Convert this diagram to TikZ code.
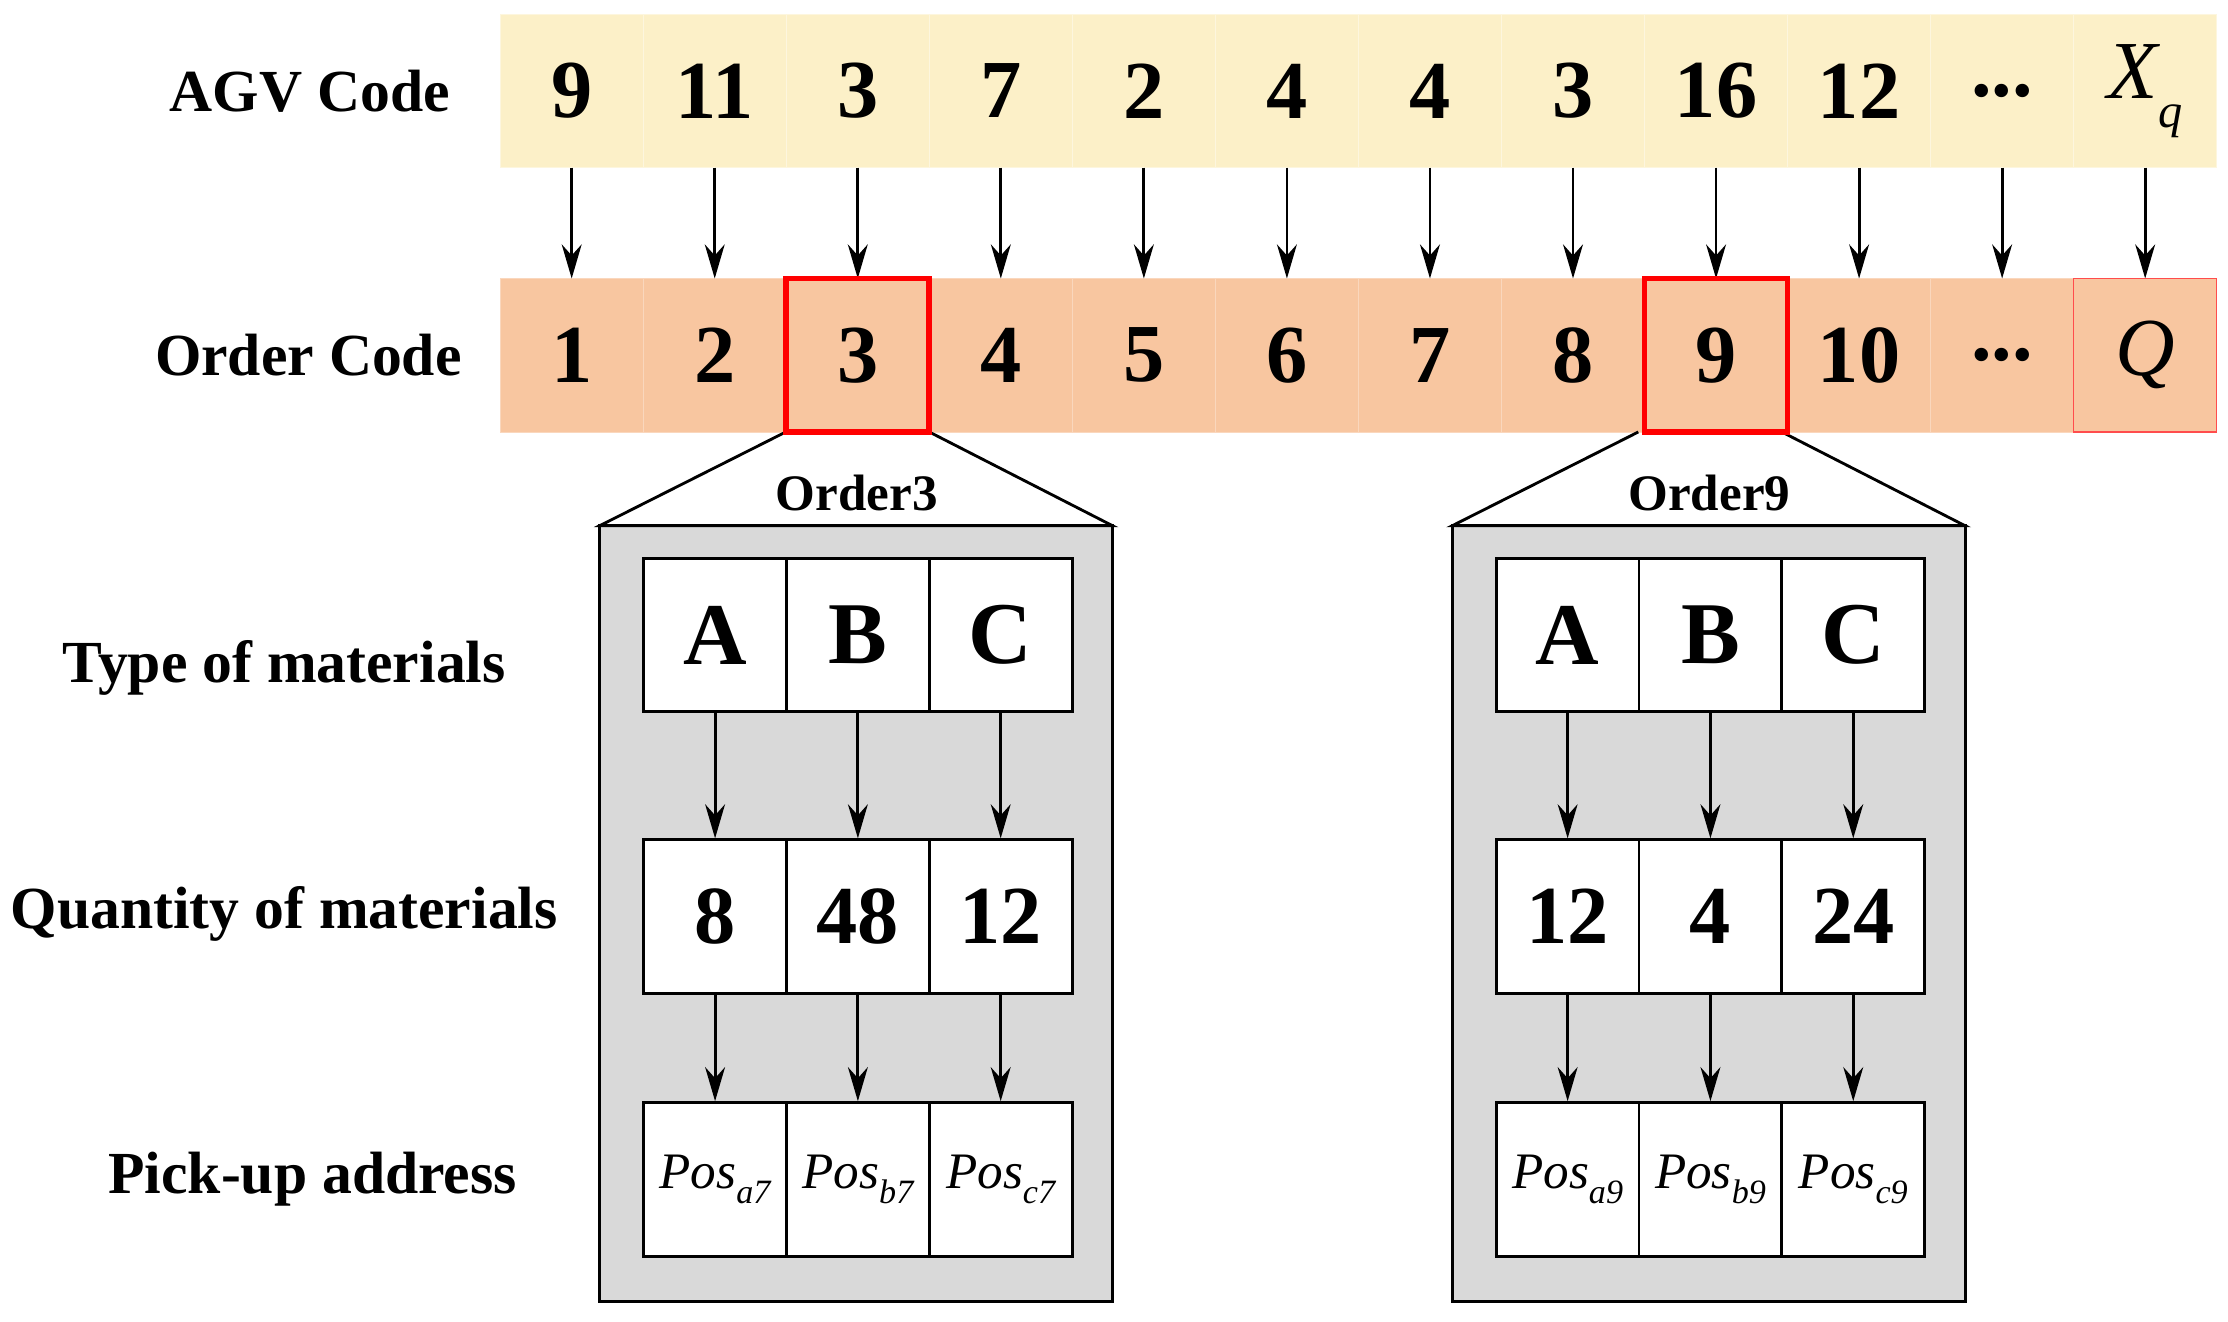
\documentclass[tikz,border=0pt]{standalone}
\usepackage{fontspec}
\setmainfont{Liberation Serif}
\usetikzlibrary{arrows.meta}
\definecolor{agv}{HTML}{FCF0C8}
\definecolor{ord}{HTML}{F8C6A0}
\definecolor{gbox}{HTML}{D9D9D9}
\newcommand\mydots{...}
\newcommand\xq{\mdseries\itshape X\raisebox{-0.35em}{\fontsize{34}{34}\selectfont q}}
\newcommand\psub[1]{\itshape Pos\raisebox{-0.3em}{\fontsize{24}{24}\selectfont #1}}
\tikzset{
 arr/.style={-{Stealth[length=24pt,width=14pt]},line width=2pt},
 cellA/.style={fill=agv,draw=agv!60!white,line width=0.6pt},
 cellO/.style={fill=ord,draw=ord!70!white,line width=0.6pt},
 big/.style={font=\bfseries\fontsize{58}{62}\selectfont},
 lab/.style={font=\bfseries\fontsize{42}{46}\selectfont},
 icell/.style={draw=black,fill=white,line width=2pt},
}
\begin{document}
\begin{tikzpicture}[x=1pt,y=-1pt]
\useasboundingbox (0,0) rectangle (1568,930);
\def\cw{100.67}
\foreach \v [count=\i from 0] in {9,11,3,7,2,4,4,3,16,12,\mydots,\xq}{
  \draw[cellA] ({352+\i*\cw},10) rectangle ({352+(\i+1)*\cw},118);
  \node[big,inner sep=0] (a\i) at ({352+(\i+0.5)*\cw},64) {\v};
  \coordinate (at\i) at ({352+(\i+0.5)*\cw},118);
}
\foreach \v [count=\i from 0] in {1,2,3,4,5,6,7,8,9,10,\mydots,{\mdseries\itshape Q}}{
  \draw[cellO] ({352+\i*\cw},196) rectangle ({352+(\i+1)*\cw},304);
  \node[big,inner sep=0] (o\i) at ({352+(\i+0.5)*\cw},250) {\v};
  \coordinate (ot\i) at ({352+(\i+0.5)*\cw},196);
}
\foreach \i in {0,...,11}{\draw[arr] (at\i) -- (ot\i);}
\draw[red!70,line width=1pt] ({352+11*\cw},196) rectangle (1560,304);
\node[lab] at (218,64) {AGV Code};
\node[lab] at (217,250) {Order Code};
\node[lab] at (200,470) {Type of materials};
\node[lab] at (200,643) {Quantity of materials};
\node[lab] at (220,830) {Pick-up address};
\foreach \k/\bx/\ord/\qa/\qb/\qc/\pn in {0/422/3/8/48/12/7, 1/1022/9/12/4/24/9}{
  \begin{scope}[xshift=\bx*1pt - 422pt]
  \draw[black,line width=2pt,fill=gbox] (422,370) rectangle (783,916);
  \draw[black,line width=2pt] (553,304) -- (422,370) -- (783,370) -- (654,304);
  \node[font=\bfseries\fontsize{36}{40}\selectfont] (t\k) at (603,347) {Order\ord};
  \foreach \v/\w [count=\j from 0] in {A/\qa,B/\qb,C/\qc}{
    \node[icell,minimum width=100.5pt,minimum height=108pt,font=\bfseries\fontsize{62}{66}\selectfont,anchor=north west] (r1\k\j) at ({452+\j*100.5},392) {\v};
    \node[icell,minimum width=100.5pt,minimum height=108pt,big,anchor=north west] (r2\k\j) at ({452+\j*100.5},590) {\w};
  }
  \foreach \s [count=\j from 0] in {a,b,c}{
    \node[icell,minimum width=100.5pt,minimum height=108pt,anchor=north west,inner sep=0,font=\fontsize{36}{40}\selectfont] (r3\k\j) at ({452+\j*100.5},775) {\psub{\s\pn}};
    \draw[arr] (r1\k\j.south) -- (r2\k\j.north);
    \draw[arr] (r2\k\j.south) -- (r3\k\j.north);
  }
  \end{scope}
}
\draw[red,line width=4pt] ({352+2*\cw},196) rectangle ({352+3*\cw},304);
\draw[red,line width=4pt] ({352+8*\cw},196) rectangle ({352+9*\cw},304);
\end{tikzpicture}
\end{document}
